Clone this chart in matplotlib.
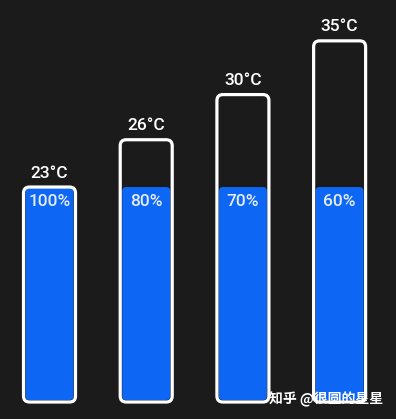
import matplotlib.pyplot as plt
from matplotlib.patches import FancyBboxPatch

# data
temps = ['23°C', '26°C', '30°C', '35°C']
fill_labels = ['100%', '80%', '70%', '60%']
capacity = [1.0, 1.22, 1.43, 1.68]   # bar height, relative to the 23°C bar
water = [1.0, 1.0, 1.0, 1.0]         # blue fill level, same for all

BG = '#1b1b1b'
BLUE = '#0d67f4'

fig = plt.figure(figsize=(3.96, 4.19), dpi=100)
fig.patch.set_facecolor(BG)
ax = fig.add_axes([0, 0, 1, 1])
ax.set_facecolor(BG)
ax.set_xlim(-0.512, 3.583)
ax.set_ylim(-0.079, 1.870)
ax.axis('off')

# one px in data units, used for rounding the corners
px_x = (3.583 + 0.512) / 396
px_y = (1.870 + 0.079) / 419
aspect = px_y / px_x

outer_w = 52 * px_x
inner_w = 48 * px_x

for i in range(len(temps)):
    # blue water
    fb = FancyBboxPatch((i - inner_w / 2, 2 * px_y), inner_w, water[i] - 2 * px_y,
                        boxstyle='round,pad=0,rounding_size=%f' % (4 * px_x),
                        mutation_aspect=aspect, facecolor=BLUE, edgecolor='none', zorder=2)
    ax.add_patch(fb)
    # white glass outline
    ob = FancyBboxPatch((i - outer_w / 2, 0), outer_w, capacity[i],
                        boxstyle='round,pad=0,rounding_size=%f' % (6 * px_x),
                        mutation_aspect=aspect, facecolor='none', edgecolor='white',
                        linewidth=2.3, zorder=3)
    ax.add_patch(ob)
    ax.text(i, capacity[i] + 14 * px_y, temps[i], color='white', fontsize=12.5,
            fontweight='medium', family='Roboto', ha='center', va='center')
    ax.text(i, water[i] - 14 * px_y, fill_labels[i], color='#e4ecfb', fontsize=12.5,
            fontweight='medium', family='Roboto', ha='center', va='center', zorder=4)

ax.text(0.967, 0.048, '知乎 @很圆的星星', transform=fig.transFigure, color='white',
        fontsize=10, fontweight='bold', family=['Noto Sans CJK SC', 'DejaVu Sans'],
        ha='right', va='center', zorder=5)

fig.savefig('out.png', dpi=100, facecolor=BG)
